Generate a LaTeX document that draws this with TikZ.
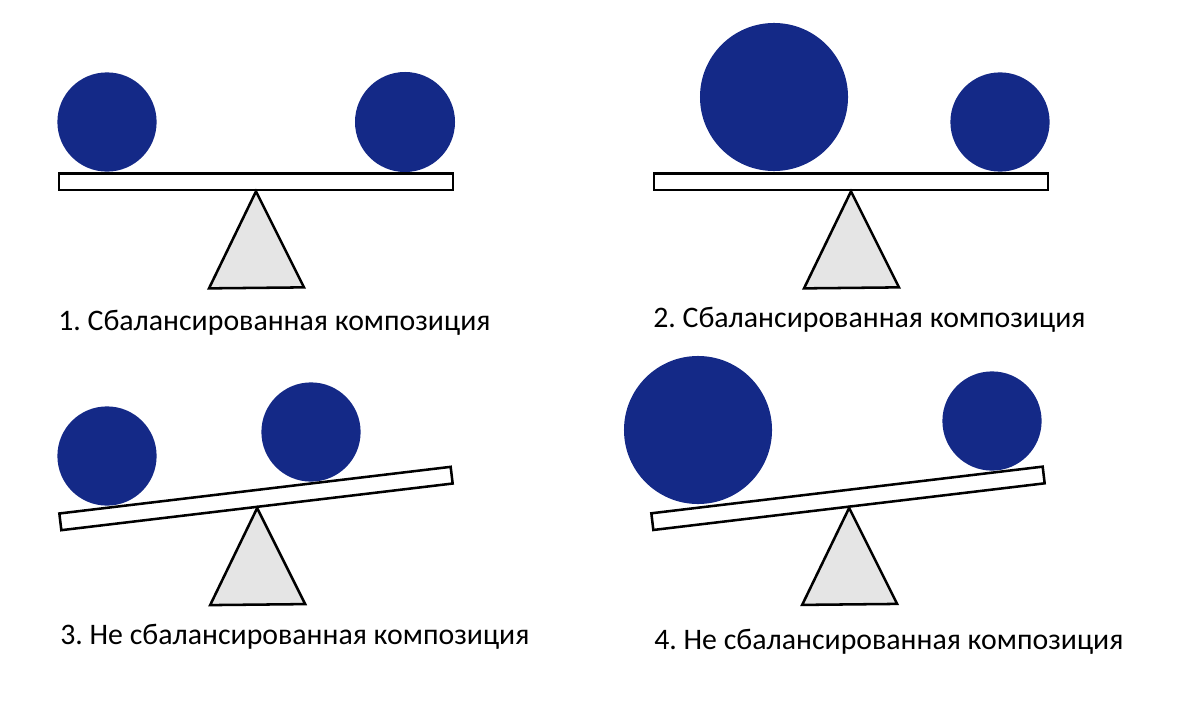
\documentclass[tikz,border=0pt]{standalone}
\usepackage{fontspec}
\setmainfont{Carlito}
\frenchspacing
\definecolor{navy}{RGB}{20,41,135}
\definecolor{stand}{RGB}{229,229,229}
\begin{document}
\begin{tikzpicture} [
                x=0.025cm, y=-0.025cm,
                ball/.style={circle,fill=navy,inner sep=0pt},
                beam/.style={draw,line width=1.8pt,fill=white,rectangle,
                    minimum width=9.85cm,minimum height=0.42cm,inner sep=0pt},
                pivot/.style={draw,line width=1.8pt,fill=stand,line join=miter},
                caption/.style={anchor=base west,inner sep=0pt,
                    font=\fontsize{21.2}{26}\selectfont},
            ]
            \useasboundingbox (0,0) rectangle (1200,703);
            % First we draw the balls
            \foreach \pos/\name/\size in {
                    {(107,122)/b1l/2.48cm},
                    {(405,122)/b1r/2.5cm},
                    {(774,97)/b2l/3.7cm},
                    {(1000,122)/b2r/2.48cm},
                    {(107,456)/b3l/2.48cm},
                    {(311,432)/b3r/2.48cm},
                    {(698,430)/b4l/3.7cm},
                    {(992,421)/b4r/2.48cm}}
                \node[ball,minimum size=\size] (\name) at \pos {};
            % Beams, level and tilted
            \node[beam] (beam1) at (256,181.7) {};
            \node[beam] (beam2) at (851,181.7) {};
            \node[beam,rotate=6.8] (beam3) at (256,498.5) {};
            \node[beam,rotate=6.8] (beam4) at (848,498.3) {};
            % Stands under the beams
            \foreach \name in {beam1,beam2,beam3,beam4}
                \draw[pivot] (\name.south) -- ++(-47,97) -- ++(95,-1) -- cycle;
            % Captions
            \node[caption] (cap1) at (58,330) {1. Сбалансированная композиция};
            \node[caption] (cap2) at (653,327.5) {2. Сбалансированная композиция};
            \node[caption] (cap3) at (60,644) {3. Не сбалансированная композиция};
            \node[caption] (cap4) at (654,649) {4. Не сбалансированная композиция};
        \end{tikzpicture}
\end{document}
